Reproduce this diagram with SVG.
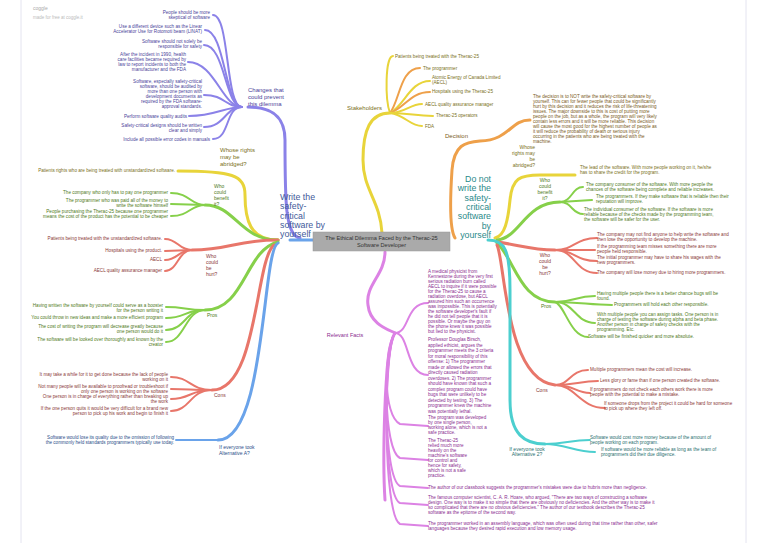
<svg xmlns="http://www.w3.org/2000/svg" width="768" height="543" viewBox="0 0 768 543">
<style>
text{font-family:"Liberation Sans",Arial,sans-serif;}
.t{font-size:4.6px;}
.e{text-anchor:end;}
.m{text-anchor:middle;}
.lb{font-size:6px;}
.c path{fill:none;stroke-linecap:round;}
.w{stroke-width:3;}
.n{stroke-width:2;}
.pu{stroke:#8b82e8;} .ye{stroke:#e8d43a;} .gr{stroke:#86d04a;} .rd{stroke:#e8766a;} .bl{stroke:#6aa3ea;}
.or{stroke:#eea04a;} .te{stroke:#4ccfcf;} .pk{stroke:#dc82e4;}
.fpu{fill:#4a3f9a;} .fye{fill:#7a7022;} .fgr{fill:#4f7a22;} .frd{fill:#8a3a38;} .fbl{fill:#2c4f8a;} .for{fill:#7a5a22;} .fte{fill:#2a6f6f;} .fpk{fill:#8a2c90;}
</style>
<rect width="768" height="543" fill="#fff"/>
<line x1="21" y1="0" x2="21" y2="543" stroke="#e4e4f0" stroke-width="1"/>
<line x1="746" y1="0" x2="746" y2="543" stroke="#e4e4f0" stroke-width="1"/>
<text x="33" y="10" font-size="5" fill="#aaa">coggle</text>
<text x="33" y="19" font-size="4.5" fill="#bbb">made for free at coggle.it</text>

<g id="connectors" class="c">
<path class="pu w" d="M300 238 C285 236 285 200 285 140 C285 115 270 107 248 107"/>
<path class="pu n" d="M242 107 C225 107 230 15 213 15"/>
<path class="pu n" d="M242 107 C225 107 225 30 205 30"/>
<path class="pu n" d="M242 107 C225 107 225 45 204 45"/>
<path class="pu n" d="M242 107 C222 107 215 62 188 62"/>
<path class="pu n" d="M242 107 C225 107 225 95 204 95"/>
<path class="pu n" d="M242 107 C225 107 215 116 189 116"/>
<path class="pu n" d="M242 107 C225 107 225 127 204 127"/>
<path class="pu n" d="M242 107 C225 107 230 139 213 139"/>
<path class="ye w" d="M278 240 C250 240 245 220 245 195 C245 175 232 171 178 171"/>
<path class="gr w" d="M278 240 C240 240 235 205 205 205"/>
<path class="gr n" d="M205 205 C190 205 190 193 171 193"/>
<path class="gr n" d="M205 205 L171 204"/>
<path class="gr n" d="M205 205 C190 205 190 216 171 216"/>
<path class="rd w" d="M278 240 C235 240 230 250 192 250"/>
<path class="rd n" d="M192 250 C178 250 178 239 165 239"/>
<path class="rd n" d="M192 250 L165 251"/>
<path class="rd n" d="M192 250 C178 250 178 260 165 260"/>
<path class="rd n" d="M192 250 C178 250 178 271 165 271"/>
<path class="gr w" d="M278 242 C245 250 245 310 205 310"/>
<path class="gr n" d="M205 310 C185 310 185 307 166 307"/>
<path class="gr n" d="M205 310 C185 310 185 318 166 318"/>
<path class="gr n" d="M205 310 C185 310 185 330 166 330"/>
<path class="gr n" d="M205 310 C185 310 185 342 166 342"/>
<path class="rd w" d="M274 245 C255 260 258 390 212 390"/>
<path class="rd n" d="M212 390 C190 390 190 377 171 377"/>
<path class="rd n" d="M212 390 C190 390 190 389 171 389"/>
<path class="rd n" d="M212 390 C190 390 190 399 171 399"/>
<path class="rd n" d="M212 390 C190 390 190 411 171 411"/>
<path class="bl w" d="M278 243 C262 250 266 440 218 440"/>
<path class="bl n" d="M218 440 L176 440"/>
<path class="bl w" d="M290 240 L315 240"/>
<path class="ye w" d="M382 233 C380 200 363 190 363 160 C363 130 370 113 390 113"/>
<path class="ye n" d="M390 113 C385 100 385 56 393 56"/>
<path class="or n" d="M390 113 C400 100 400 68 420 68"/>
<path class="ye n" d="M390 113 C405 105 410 81 430 81"/>
<path class="or n" d="M390 113 C405 108 410 92 430 92"/>
<path class="ye n" d="M390 113 C405 113 410 104 422 104"/>
<path class="ye n" d="M390 113 C410 113 415 116 433 116"/>
<path class="ye n" d="M390 113 C405 115 410 126 422 126"/>
<path class="or w" d="M455 238 C450 230 450 200 452 170 C454 145 465 142 480 141 C510 140 510 120 530 120"/>
<path class="ye w" d="M495 238 C505 236 508 220 510 200 C512 178 520 175 540 175 L575 175"/>
<path class="gr w" d="M497 240 C520 238 525 202 560 202"/>
<path class="gr n" d="M560 202 C572 202 572 187 583 187"/>
<path class="gr n" d="M560 202 L592 200"/>
<path class="gr n" d="M560 202 C572 202 572 214 583 214"/>
<path class="rd w" d="M497 242 C520 245 530 250 555 250"/>
<path class="rd n" d="M555 250 C575 250 575 238 597 238"/>
<path class="rd n" d="M555 250 L595 250"/>
<path class="rd n" d="M555 250 C575 250 575 261 597 261"/>
<path class="rd n" d="M555 250 C575 250 575 273 597 273"/>
<path class="gr w" d="M497 243 C515 260 520 302 555 302"/>
<path class="gr n" d="M555 302 C575 302 575 296 595 296"/>
<path class="gr n" d="M555 302 C580 302 590 305 612 305"/>
<path class="gr n" d="M555 302 C575 302 575 323 595 323"/>
<path class="gr n" d="M555 302 C565 305 570 337 588 337"/>
<path class="rd w" d="M497 245 C505 260 505 380 555 385"/>
<path class="rd n" d="M555 385 C570 385 570 370 588 370"/>
<path class="rd n" d="M555 385 C575 385 580 381 598 381"/>
<path class="rd n" d="M555 385 C575 385 575 393 590 393"/>
<path class="rd n" d="M555 385 C575 385 580 408 605 408"/>
<path class="te w" d="M488 240 C505 240 510 250 510 290 L510 400 C510 435 525 444 545 444"/>
<path class="te n" d="M545 444 C565 444 570 440 590 440"/>
<path class="te n" d="M545 444 C565 444 575 452 595 452"/>
<path class="pk w" d="M385 252 C385 275 365 285 368 305 C370 325 390 330 395 333"/>
<path class="pk n" d="M395 333 C410 333 405 303 428 303"/>
<path class="pk n" d="M395 333 C410 333 405 375 428 375"/>
<path class="pk w" d="M395 333 C383 350 383 470 385 500"/>
<path class="pk n" d="M395 333 C383 350 383 416 400 424 L428 426"/>
<path class="pk n" d="M395 333 C383 350 383 450 400 458 L428 460"/>
<path class="pk n" d="M395 333 C383 350 383 478 400 486 L428 488"/>
<path class="pk n" d="M395 333 C383 350 383 496 400 503 L428 505"/>
<path class="pk n" d="M395 333 C383 350 383 516 400 524 L428 526"/>
</g>

<g id="root">
<rect x="313" y="232" width="137" height="19" fill="#aaaaaa" stroke="#999" stroke-width="0.5"/>
<text x="381.5" y="240" class="m" font-size="5.6" fill="#333">The Ethical Dilemma Faced by the Therac-25</text>
<text x="381.5" y="247" class="m" font-size="5.6" fill="#333">Software Developer</text>
</g>

<g id="node-write" fill="#3f5a9a" font-size="8.8">
<text x="280" y="200">Write the</text>
<text x="280" y="209.3">safety-</text>
<text x="280" y="218.6">critical</text>
<text x="280" y="227.9">software by</text>
<text x="280" y="237.2">yourself</text>
</g>

<g id="node-donot" fill="#2a8a8a" font-size="8.8" text-anchor="end">
<text x="491" y="182">Do not</text>
<text x="491" y="191.3">write the</text>
<text x="491" y="200.6">safety-</text>
<text x="491" y="209.9">critical</text>
<text x="491" y="219.2">software</text>
<text x="491" y="228.5">by</text>
<text x="491" y="237.8">yourself</text>
</g>

<g id="changes" class="t fpu">
<text x="248" y="92" class="lb">Changes that</text>
<text x="248" y="99" class="lb">could prevent</text>
<text x="248" y="106" class="lb">this dilemma</text>
<g class="e">
<text x="210" y="14">People should be more</text><text x="210" y="19">skeptical of software</text>
<text x="202" y="28">Use a different device such as the Linear</text><text x="202" y="33">Accelerator Use for Rotomoti beam (LINAT)</text>
<text x="202" y="43">Software should not solely be</text><text x="202" y="48">responsible for safety</text>
<text x="186" y="56">After the incident in 1990, health</text><text x="186" y="61">care facilities became required by</text><text x="186" y="66">law to report incidents to both the</text><text x="186" y="71">manufacturer and the FDA</text>
<text x="202" y="83">Software, especially safety-critical</text><text x="202" y="88">software, should be audited by</text><text x="202" y="93">more than one person with</text><text x="202" y="98">development documents as</text><text x="202" y="103">required by the FDA software-</text><text x="202" y="108">approval standards.</text>
<text x="187" y="118">Perform software quality audits</text>
<text x="202" y="127">Safety-critical designs should be written</text><text x="202" y="132">clear and simply</text>
<text x="210" y="141">Include all possible error codes in manuals</text>
</g>
</g>

<g id="left-rights" class="t fye">
<text x="220" y="152" class="lb">Whose rights</text>
<text x="220" y="159" class="lb">may be</text>
<text x="220" y="166" class="lb">abridged?</text>
<text x="175" y="172" class="e">Patients rights who are being treated with unstandardized software.</text>
</g>

<g id="left-benefit" class="t fgr">
<text x="214" y="188" font-size="5">Who</text><text x="214" y="194" font-size="5">could</text><text x="214" y="200" font-size="5">benefit</text><text x="214" y="206" font-size="5">it?</text>
<g class="e">
<text x="168" y="194">The company who only has to pay one programmer</text>
<text x="168" y="202">The programmer who was paid all of the money to</text><text x="168" y="207">write the software himself</text>
<text x="168" y="213">People purchasing the Therac-25 because one programmer</text><text x="168" y="218">means the cost of the product has the potential to be cheaper</text>
</g>
</g>

<g id="left-hurt" class="t frd">
<text x="206" y="258" font-size="5">Who</text><text x="206" y="264" font-size="5">could</text><text x="206" y="270" font-size="5">be</text><text x="206" y="276" font-size="5">hurt?</text>
<g class="e">
<text x="162" y="240">Patients being treated with the unstandardized software.</text>
<text x="162" y="252">Hospitals using the product.</text>
<text x="162" y="261">AECL</text>
<text x="162" y="272">AECL quality assurance manager</text>
</g>
</g>

<g id="left-pros" class="t fgr">
<text x="207" y="317" font-size="5">Pros</text>
<g class="e">
<text x="163" y="307">Having written the software by yourself could serve as a booster</text><text x="163" y="312">for the person writing it</text>
<text x="163" y="319">You could throw in new ideas and make a more efficient program</text>
<text x="163" y="328">The cost of writing the program will decrease greatly because</text><text x="163" y="333">one person would do it</text>
<text x="163" y="341">The software will be looked over thoroughly and known by the</text><text x="163" y="346">creator</text>
</g>
</g>

<g id="left-cons" class="t frd">
<text x="214" y="397" font-size="5">Cons</text>
<g class="e">
<text x="168" y="376">It may take a while for it to get done because the lack of people</text><text x="168" y="381">working on it</text>
<text x="168" y="388">Not many people will be available to proofread or troubleshoot if</text><text x="168" y="393">only one person is working on the software</text>
<text x="168" y="398">One person is in charge of everything rather than breaking up</text><text x="168" y="403">the work</text>
<text x="168" y="410">If the one person quits it would be very difficult for a brand new</text><text x="168" y="415">person to pick up his work and begin to finish it</text>
</g>
</g>

<g id="left-alt" class="t fbl">
<text x="219" y="449" font-size="5">If everyone took</text><text x="219" y="455" font-size="5">Alternative A?</text>
<g class="e">
<text x="174" y="439">Software would lose its quality due to the omission of following</text><text x="174" y="444">the commonly held standards programmers typically use today.</text>
</g>
</g>

<g id="stakeholders" class="t fye">
<text x="347" y="110" class="lb">Stakeholders</text>
<text x="395" y="58">Patients being treated with the Therac-25</text>
<text x="423" y="70">The programmer</text>
<text x="432" y="79">Atomic Energy of Canada Limited</text><text x="432" y="84">(AECL)</text>
<text x="432" y="93">Hospitals using the Therac-25</text>
<text x="425" y="106">AECL quality assurance manager</text>
<text x="436" y="117">Therac-25 operators</text>
<text x="425" y="128">FDA</text>
</g>

<g id="decision" class="t for">
<text x="445" y="138" class="lb">Decision</text>
<text x="533" y="98">The decision is to NOT write the safety-critical software by</text>
<text x="533" y="103">yourself. This can for fewer people that could be significantly</text>
<text x="533" y="108">hurt by this decision and it reduces the risk of life-threatening</text>
<text x="533" y="113">issues. The major downside to this is cost of putting more</text>
<text x="533" y="118">people on the job, but as a whole, the program will very likely</text>
<text x="533" y="123">contain less errors and it will be more reliable. This decision</text>
<text x="533" y="128">will cause the most good for the highest number of people as</text>
<text x="533" y="133">it will reduce the probability of death or serious injury</text>
<text x="533" y="138">occurring in the patients who are being treated with the</text>
<text x="533" y="143">machine.</text>
</g>

<g id="right-rights" class="t fye">
<g class="e" font-size="5"><text x="535" y="149">Whose</text><text x="535" y="155">rights may</text><text x="535" y="161">be</text><text x="535" y="167">abridged?</text></g>
<text x="580" y="169">The lead of the software. With more people working on it, he/she</text>
<text x="580" y="174">has to share the credit for the program.</text>
</g>

<g id="right-benefit" class="t fgr">
<g class="m" font-size="5"><text x="545" y="182">Who</text><text x="545" y="188">could</text><text x="545" y="194">benefit</text><text x="545" y="200">it?</text></g>
<text x="586" y="186">The company consumer of the software. With more people the</text><text x="586" y="191">chances of the software being complete and reliable increases.</text>
<text x="596" y="198">The programmers. If they make software that is reliable then their</text><text x="596" y="203">reputation will improve.</text>
<text x="584" y="211">The individual consumer of the software. If the software is more</text><text x="584" y="216">reliable because of the checks made by the programming team,</text><text x="584" y="221">the software will be safer for the user.</text>
</g>

<g id="right-hurt" class="t frd">
<g class="m" font-size="5"><text x="545" y="257">Who</text><text x="545" y="263">could</text><text x="545" y="269">be</text><text x="545" y="275">hurt?</text></g>
<text x="597" y="236">The company may not find anyone to help write the software and</text><text x="597" y="241">then lose the opportunity to develop the machine.</text>
<text x="597" y="248">If the programming team misses something there are more</text><text x="597" y="253">people held responsible.</text>
<text x="597" y="259">The initial programmer may have to share his wages with the</text><text x="597" y="264">new programmers.</text>
<text x="597" y="274">The company will lose money due to hiring more programmers.</text>
</g>

<g id="right-pros" class="t fgr">
<text x="541" y="308" font-size="5">Pros</text>
<text x="597" y="295">Having multiple people there is a better chance bugs will be</text><text x="597" y="300">found.</text>
<text x="614" y="306">Programmers will hold each other responsible.</text>
<text x="597" y="316">With multiple people you can assign tasks. One person is in</text><text x="597" y="321">charge of testing the software during alpha and beta phase.</text><text x="597" y="326">Another person in charge of safety checks with the</text><text x="597" y="331">programming. Etc.</text>
<text x="588" y="338">Software will be finished quicker and more absolute.</text>
</g>

<g id="right-cons" class="t frd">
<text x="536" y="392" font-size="5">Cons</text>
<text x="590" y="371">Multiple programmers mean the cost will increase.</text>
<text x="600" y="382">Less glory or fame than if one person created the software.</text>
<text x="590" y="391">If programmers do not check each others work there is more</text><text x="590" y="396">people with the potential to make a mistake.</text>
<text x="604" y="405">If someone drops from the project it could be hard for someone</text><text x="604" y="410">to pick up where they left off.</text>
</g>

<g id="right-alt" class="t fte">
<g class="m" font-size="5"><text x="527" y="451">If everyone took</text><text x="527" y="456">Alternative 2?</text></g>
<text x="590" y="439">Software would cost more money because of the amount of</text><text x="590" y="444">people working on each program.</text>
<text x="601" y="451">If software would be more reliable as long as the team of</text><text x="601" y="456">programmers did their due diligence.</text>
</g>

<g id="facts" class="t fpk">
<text x="345" y="337" class="m" font-size="5.5">Relevant Facts</text>
<text x="428" y="273">A medical physicist from</text>
<text x="428" y="278">Kennestone during the very first</text>
<text x="428" y="283">serious radiation burn called</text>
<text x="428" y="288">AECL to inquire if it were possible</text>
<text x="428" y="293">for the Therac-25 to cause a</text>
<text x="428" y="298">radiation overdose, but AECL</text>
<text x="428" y="303">assured him such an occurrence</text>
<text x="428" y="308">was impossible. This is potentially</text>
<text x="428" y="313">the software developer's fault if</text>
<text x="428" y="318">he did not tell people that it is</text>
<text x="428" y="323">possible. Or maybe the guy on</text>
<text x="428" y="328">the phone knew it was possible</text>
<text x="428" y="333">but lied to the physicist.</text>
<text x="428" y="341">Professor Douglas Birsch,</text>
<text x="428" y="346.5">applied ethicist, argues the</text>
<text x="428" y="352">programmer meets the 3 criteria</text>
<text x="428" y="357.5">for moral responsibility of this</text>
<text x="428" y="363">offense: 1) The programmer</text>
<text x="428" y="368.5">made or allowed the errors that</text>
<text x="428" y="374">directly caused radiation</text>
<text x="428" y="379.5">overdoses. 2) The programmer</text>
<text x="428" y="385">should have known that such a</text>
<text x="428" y="390.5">complex program could have</text>
<text x="428" y="396">bugs that were unlikely to be</text>
<text x="428" y="401.5">detected by testing. 3) The</text>
<text x="428" y="407">programmer knew the machine</text>
<text x="428" y="412.5">was potentially lethal.</text>
<text x="428" y="419">The program was developed</text>
<text x="428" y="424">by one single person,</text>
<text x="428" y="429">working alone, which is not a</text>
<text x="428" y="434">safe practice.</text>
<text x="428" y="442">The Therac-25</text>
<text x="428" y="447">relied much more</text>
<text x="428" y="452">heavily on the</text>
<text x="428" y="457">machine's software</text>
<text x="428" y="462">for control and</text>
<text x="428" y="467">hence for safety,</text>
<text x="428" y="472">which is not a safe</text>
<text x="428" y="477">practice.</text>
<text x="428" y="489">The author of our classbook suggests the programmer's mistakes were due to hubris more than negligence.</text>
<text x="428" y="499">The famous computer scientist, C. A. R. Hoare, who argued, "There are two ways of constructing a software</text>
<text x="428" y="504">design. One way is to make it so simple that there are obviously no deficiencies. And the other way is to make it</text>
<text x="428" y="509">so complicated that there are no obvious deficiencies." The author of our textbook describes the Therac-25</text>
<text x="428" y="514">software as the epitome of the second way.</text>
<text x="428" y="525">The programmer worked in an assembly language, which was often used during that time rather than other, safer</text>
<text x="428" y="530">languages because they desired rapid execution and low memory usage.</text>
</g>
</svg>
